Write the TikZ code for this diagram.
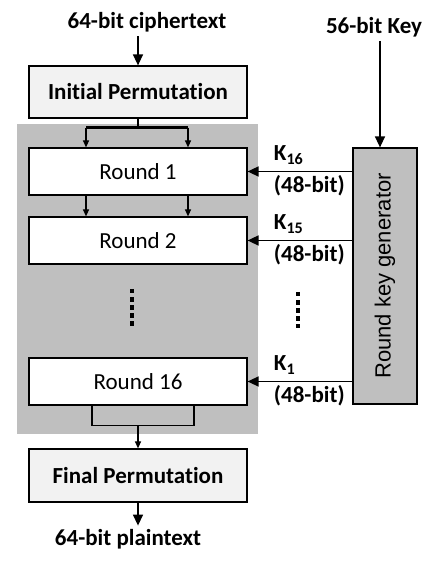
\documentclass[tikz,border=0pt]{standalone}
\usepackage{fontspec}
\setmainfont{Carlito}[Ligatures=CommonOff]
\newfontfamily\arialfont{Liberation Sans}
\usetikzlibrary{positioning,arrows.meta}

\begin{document}
\begin{tikzpicture}[x=1pt, y=1pt, node distance=20pt,
        block/.style={draw, rectangle, line width=1.2pt, minimum height=47pt, minimum width=218pt, align=center, fill=white, font=\fontsize{23}{27}\selectfont},
        perm/.style={block, fill=gray!10, minimum height=52pt, font=\fontsize{23}{27}\selectfont\bfseries},
        keybox/.style={draw, line width=1.2pt, fill=gray!50, minimum width=64pt, minimum height=256pt, font=\arialfont\fontsize{22}{26}\selectfont},
        io/.style={font=\fontsize{23}{27}\selectfont\bfseries},
        klabel/.style={font=\fontsize{23}{27}\selectfont\bfseries, inner sep=0pt},
        dotline/.style={line width=4.5pt, dash pattern=on 4.5pt off 3.6pt},
        >={Triangle[length=11pt,width=10pt]},
        thin arrow/.style={-{Triangle[length=7pt,width=6pt]}, line width=1.2pt},
        line width=1.4pt
    ]
        \useasboundingbox (0,0) rectangle (436,567);
        % grey area behind the rounds
        \fill[gray!50] (17,133) rectangle (258,443);

        \node [perm] (ip) at (138,475) {Initial Permutation};
        \node [block, below=28.8pt of ip] (r1) {Round 1};
        \node [block, below=20.8pt of r1] (r2) {Round 2};
        \node [block, below=92.8pt of r2] (r16) {Round 16};
        \node [perm, below=42.8pt of r16, minimum height=53pt] (fp) {Final Permutation};
        \node [keybox] (kg) at (385,291) {\rotatebox{90}{Round key generator}};

        \node [io] (cipher) at (147,544.5) {64-bit ciphertext};
        \node [io] (key) at (374,540) {56-bit Key};
        \node [io] (plain) at (128,27.5) {64-bit plaintext};

        % split into two halves
        \coordinate [below=9pt of ip] (split);
        \coordinate [left=52pt of split] (splitl);
        \coordinate [right=50pt of split] (splitr);
        % join the two halves
        \coordinate [below=20pt of r16] (merge);
        \coordinate [left=46pt of merge] (mergel);
        \coordinate [right=56pt of merge] (merger);

        \draw [->] (cipher.south -| ip) -- (ip);
        \draw (ip) -- (split);
        \draw [line width=3pt] (splitl) -- (splitr);
        \draw [thin arrow] (splitl) -- (splitl |- r1.north);
        \draw [thin arrow] (splitr) -- (splitr |- r1.north);
        \draw [thin arrow] (r1.south -| splitl) -- (r2.north -| splitl);
        \draw [thin arrow] (r1.south -| splitr) -- (r2.north -| splitr);
        \draw (r16.south -| mergel) -- (mergel) -- (merger) -- (r16.south -| merger);
        \draw [thin arrow] (merge) -- (fp);
        \draw [->] (fp) -- (fp.south |- plain.north);

        \draw [->] ([xshift=-5pt]kg.north |- key.south) -- ([xshift=-5pt]kg.north);
        \draw [->] (kg.west |- r1) -- (r1.east)
            node [klabel, pos=0.755, anchor=base west, yshift=11pt] {K\textsubscript{16}}
            node [klabel, pos=0.755, anchor=north west, yshift=-3pt] {(48-bit)};
        \draw [->] (kg.west |- r2) -- (r2.east)
            node [klabel, pos=0.755, anchor=base west, yshift=11pt] {K\textsubscript{15}}
            node [klabel, pos=0.755, anchor=north west, yshift=-3pt] {(48-bit)};
        \draw [->] (kg.west |- r16) -- (r16.east)
            node [klabel, pos=0.755, anchor=base west, yshift=11pt] {K\textsubscript{1}}
            node [klabel, pos=0.755, anchor=north west, yshift=-3pt] {(48-bit)};

        % omitted rounds
        \draw [dotline] (132,278) -- (132,241);
        \draw [dotline] (298,275) -- (298,239);
    \end{tikzpicture}
\end{document}
